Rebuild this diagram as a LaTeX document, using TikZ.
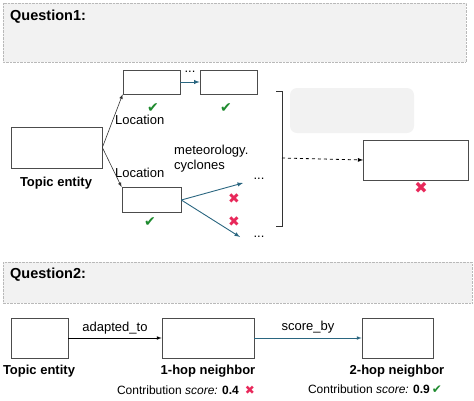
\documentclass[tikz,border=0pt]{standalone}
\usepackage{fontspec}
\setmainfont{Liberation Sans}
\newfontfamily\symfont{DejaVu Sans}
\usetikzlibrary{arrows}
\definecolor{qgray}{HTML}{F2F2F2}
\definecolor{edgeblue}{HTML}{2A6680}
\definecolor{okgreen}{HTML}{1E8A2E}
\definecolor{badred}{HTML}{E8285A}
\newcommand{\okmark}{{\symfont\color{okgreen}\char"2714}}
\newcommand{\badmark}{{\symfont\color{badred}\char"2716}}
\begin{document}
\begin{tikzpicture}[x=1pt,y=-1pt]
    \tikzset{qbox/.style = {draw=gray!55, densely dotted, fill=qgray}}
    \tikzset{entity/.style = {shape=rectangle, draw=gray!60!black, line width=0.7pt, inner sep=0pt}}
    \tikzset{lbl/.style = {font=\fontsize{13}{15}\selectfont, text=black, inner sep=1pt}}
    \tikzset{bold/.style = {font=\fontsize{13}{15}\selectfont\bfseries, inner sep=1pt}}
    \tikzset{tick/.style = {font=\fontsize{14}{16}\selectfont, inner sep=0pt}}
    \useasboundingbox (0,0) rectangle (474,400);
    % question boxes
    \draw[qbox] (3,3) rectangle (466,62);
    \node[bold, anchor=west, font=\fontsize{14.5}{16}\selectfont\bfseries] (q1) at (9,17) {Question1:};
    \draw[qbox] (3,262) rectangle (472,303);
    \node[bold, anchor=west, font=\fontsize{14.5}{16}\selectfont\bfseries] (q2) at (9,275) {Question2:};
    % vertices (question 1)
    \node[entity, minimum width=91pt, minimum height=41pt] (topic) at (56.5,147.5) {};
    \node[bold] (topiclbl) at (56,183) {Topic entity};
    \node[entity, minimum width=57pt, minimum height=24pt] (a) at (151.5,82) {};
    \node[entity, minimum width=57pt, minimum height=24pt] (b) at (228.5,82) {};
    \node[entity, minimum width=59pt, minimum height=25pt] (c) at (151.5,200) {};
    \node[entity, minimum width=105pt, minimum height=40pt] (ans) at (416,160) {};
    \node[fill=qgray, rounded corners=7pt, minimum width=124pt, minimum height=45pt] (hint) at (352,110.5) {};
    \node[lbl] (dab) at (190,72) {...};
    \node[lbl] (dc1) at (259,179) {...};
    \node[lbl] (dc2) at (259,237) {...};
    \coordinate (tc1) at (243,183);
    \coordinate (tc2) at (240,237);
    % labels
    \node[lbl, anchor=west] (loc1) at (114,120) {Location};
    \node[lbl, anchor=west] (loc2) at (114,173) {Location};
    \node[lbl, anchor=west, align=left] (met) at (173,159) {meteorology.\\cyclones};
    \node[tick] (ka) at (153,108) {\okmark};
    \node[tick] (kb) at (226,108) {\okmark};
    \node[tick] (kc) at (150,222) {\okmark};
    \node[tick] (x1) at (234,199) {\badmark};
    \node[tick] (x2) at (234,222) {\badmark};
    \node[tick, font=\fontsize{16}{18}\selectfont] (xans) at (421,188) {\badmark};
    % bracket
    \coordinate (bt) at (276,91);
    \coordinate (bb) at (276,226);
    \coordinate (bm) at (282,158);
    \draw[black!80, line width=1pt] (bt) -- ++(6,0) -- ++(0,135) -- (bb);
    % edges (question 1)
    \draw[black!80, -latex, line width=0.6pt] (topic.east) to (a.south west);
    \draw[black!80, -latex, line width=0.6pt] (topic.east) to (c.north west);
    \draw[edgeblue, -latex, line width=0.9pt] (a) to (b);
    \draw[edgeblue, -latex, line width=0.9pt] (c.east) to (tc1);
    \draw[edgeblue, -latex, line width=0.9pt] (c.east) to (tc2);
    \draw[black, -latex, dashed, line width=0.8pt] (bm) to (ans.west);
    % vertices (question 2)
    \node[entity, minimum width=57pt, minimum height=40pt] (e) at (39.5,338) {};
    \node[entity, minimum width=92pt, minimum height=40pt] (f) at (208,338) {};
    \node[entity, minimum width=71pt, minimum height=40pt] (g) at (397.5,338) {};
    \node[bold] (elbl) at (39,371) {Topic entity};
    \node[bold] (flbl) at (208,371) {1-hop neighbor};
    \node[bold] (glbl) at (397,371) {2-hop neighbor};
    \node[lbl, font=\fontsize{12}{14}\selectfont] (fscore) at (186,390) {Contribution \textit{score:} \textbf{0.4}\hspace{6pt}\badmark};
    \node[lbl, font=\fontsize{12}{14}\selectfont] (gscore) at (375,389) {Contribution \textit{score:} \textbf{0.9}\,\okmark};
    % edges (question 2)
    \draw[black, -latex, line width=0.7pt] (e) to node[lbl, above=2pt] {adapted\_to} (f);
    \draw[edgeblue, -latex, line width=0.7pt] (f) to node[lbl, above=3pt] {score\_by} (g);
\end{tikzpicture}
\end{document}
